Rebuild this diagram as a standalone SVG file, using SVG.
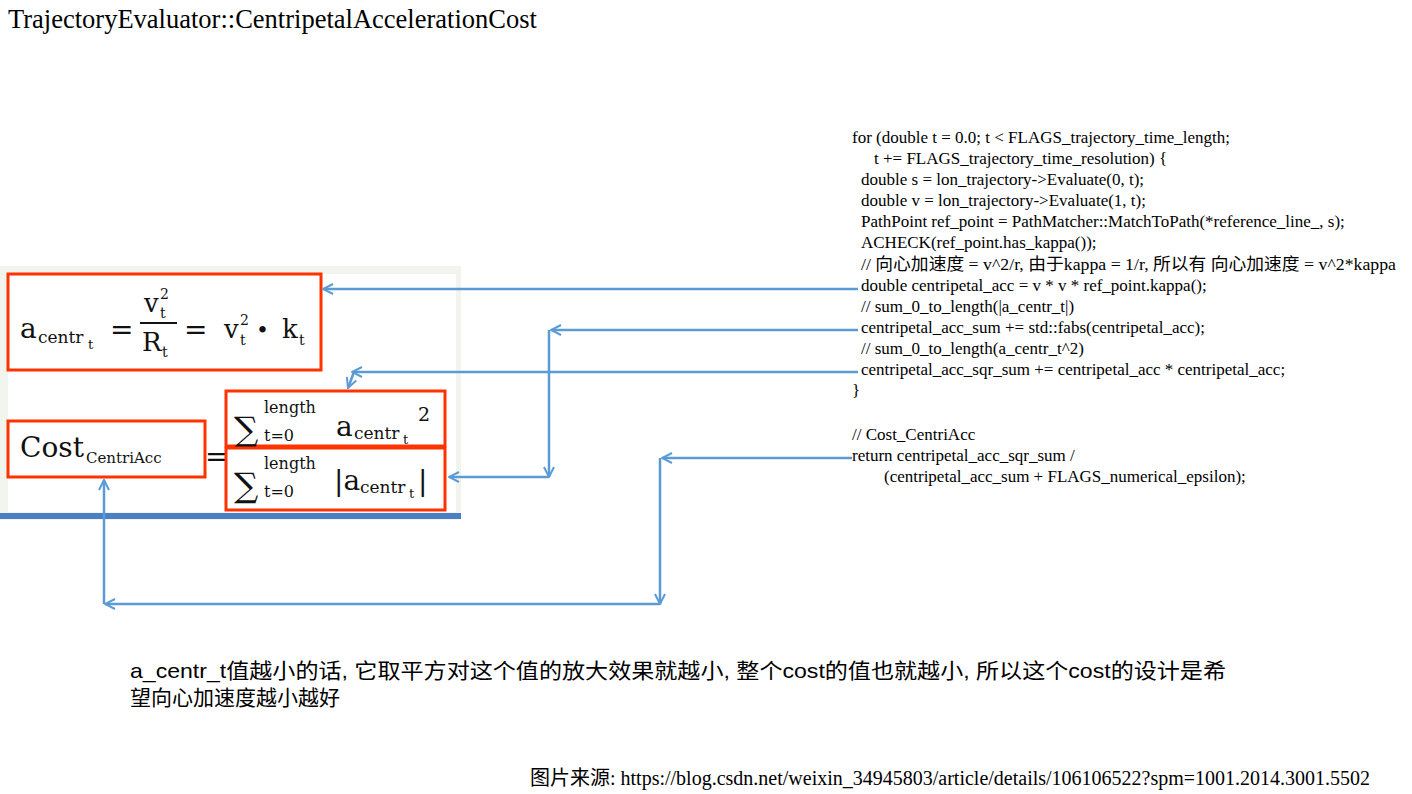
<svg xmlns="http://www.w3.org/2000/svg" width="1412" height="794" viewBox="0 0 1412 794">
<defs>
<marker id="ah" viewBox="0 0 12 12" refX="11" refY="6" markerWidth="12" markerHeight="12" markerUnits="userSpaceOnUse" orient="auto"><path d="M1,1 L11,6 L1,11" fill="none" stroke="#5b9bd5" stroke-width="2"/></marker>
<style>
.code{font-family:"Liberation Serif","Noto Sans CJK SC",serif;font-size:17px;fill:#000}
.m{font-family:"DejaVu Serif","Liberation Serif",serif;fill:#111}
.box{fill:none;stroke:#ff3300;stroke-width:3}
.c{fill:none;stroke:#5b9bd5;stroke-width:2.5}
.note{font-family:"Liberation Sans","Noto Sans CJK SC",sans-serif;font-size:21px;fill:#000}
</style>
</defs>
<rect width="1412" height="794" fill="#fff"/>
<text x="8" y="28" style="font-family:'Liberation Serif',serif;font-size:26.5px">TrajectoryEvaluator::CentripetalAccelerationCost</text>
<g id="formula-image">
<rect x="0" y="266" width="461" height="254" fill="#f2f4ee"/>
<rect x="8" y="274" width="448" height="238" fill="#fff"/>
<rect x="0" y="513" width="461" height="6" fill="#4a7fc4"/>
</g>
<g id="node-acentr">
<rect class="box" x="8" y="274" width="313" height="96"/>
<text class="m" x="20" y="338" font-size="28">a</text>
<text class="m" x="38" y="343" font-size="17">centr</text>
<text class="m" x="88" y="349" font-size="13">t</text>
<text class="m" x="110" y="339" font-size="28">=</text>
<text class="m" x="144" y="312" font-size="26">v</text>
<text class="m" x="160" y="299" font-size="14">2</text>
<text class="m" x="160" y="318" font-size="14">t</text>
<line x1="140" y1="323" x2="177" y2="323" stroke="#111" stroke-width="2"/>
<text class="m" x="142" y="351" font-size="26">R</text>
<text class="m" x="162" y="357" font-size="14">t</text>
<text class="m" x="184" y="339" font-size="28">=</text>
<text class="m" x="224" y="338" font-size="26">v</text>
<text class="m" x="240" y="325" font-size="14">2</text>
<text class="m" x="240" y="345" font-size="14">t</text>
<text class="m" x="256" y="338" font-size="22">•</text>
<text class="m" x="282" y="338" font-size="26">k</text>
<text class="m" x="299" y="345" font-size="14">t</text>
</g>
<g id="node-cost">
<rect class="box" x="8" y="421" width="197" height="56"/>
<text class="m" x="20" y="457" font-size="28">Cost</text>
<text class="m" x="86" y="463" font-size="15">CentriAcc</text>
<text class="m" x="205" y="466" font-size="28">=</text>
</g>
<g id="node-numerator">
<rect class="box" x="226" y="391" width="219" height="55"/>
<text class="m" x="234" y="441" font-size="34">∑</text>
<text class="m" x="264" y="413" font-size="16">length</text>
<text class="m" x="264" y="441" font-size="16">t=0</text>
<text class="m" x="336" y="436" font-size="28">a</text>
<text class="m" x="354" y="439" font-size="17">centr</text>
<text class="m" x="403" y="444" font-size="13">t</text>
<text class="m" x="418" y="421" font-size="19">2</text>
</g>
<g id="node-denominator">
<rect class="box" x="226" y="448" width="219" height="62"/>
<text class="m" x="234" y="497" font-size="34">∑</text>
<text class="m" x="264" y="469" font-size="16">length</text>
<text class="m" x="264" y="497" font-size="16">t=0</text>
<text class="m" x="334" y="490" font-size="28">|a</text>
<text class="m" x="360" y="493" font-size="17">centr</text>
<text class="m" x="409" y="498" font-size="13">t</text>
<text class="m" x="418" y="490" font-size="28">|</text>
</g>
<g id="code">
<text class="code" x="852" y="143">for (double t = 0.0; t &lt; FLAGS_trajectory_time_length;</text>
<text class="code" x="874" y="164">t += FLAGS_trajectory_time_resolution) {</text>
<text class="code" x="861" y="185">double s = lon_trajectory-&gt;Evaluate(0, t);</text>
<text class="code" x="861" y="206">double v = lon_trajectory-&gt;Evaluate(1, t);</text>
<text class="code" x="861" y="227">PathPoint ref_point = PathMatcher::MatchToPath(*reference_line_, s);</text>
<text class="code" x="861" y="248">ACHECK(ref_point.has_kappa());</text>
<text class="code" x="861" y="270" textLength="535" lengthAdjust="spacingAndGlyphs">// 向心加速度 = v^2/r, 由于kappa = 1/r, 所以有 向心加速度 = v^2*kappa</text>
<text class="code" x="861" y="291">double centripetal_acc = v * v * ref_point.kappa();</text>
<text class="code" x="861" y="312">// sum_0_to_length(|a_centr_t|)</text>
<text class="code" x="861" y="333">centripetal_acc_sum += std::fabs(centripetal_acc);</text>
<text class="code" x="861" y="354">// sum_0_to_length(a_centr_t^2)</text>
<text class="code" x="861" y="375">centripetal_acc_sqr_sum += centripetal_acc * centripetal_acc;</text>
<text class="code" x="852" y="396">}</text>
<text class="code" x="852" y="440">// Cost_CentriAcc</text>
<text class="code" x="852" y="461">return centripetal_acc_sqr_sum /</text>
<text class="code" x="884" y="482">(centripetal_acc_sum + FLAGS_numerical_epsilon);</text>
</g>
<g id="connectors">
<line class="c" x1="858" y1="289" x2="323" y2="289" marker-end="url(#ah)"/>
<line class="c" x1="858" y1="330" x2="551" y2="330" marker-end="url(#ah)"/>
<line class="c" x1="549" y1="330" x2="549" y2="477" marker-end="url(#ah)"/>
<line class="c" x1="549" y1="477" x2="449" y2="477" marker-end="url(#ah)"/>
<line class="c" x1="858" y1="372" x2="352" y2="372" marker-end="url(#ah)"/>
<line class="c" x1="354" y1="372" x2="348" y2="388" marker-end="url(#ah)"/>
<line class="c" x1="852" y1="458" x2="662" y2="458" marker-end="url(#ah)"/>
<line class="c" x1="660" y1="458" x2="660" y2="604" marker-end="url(#ah)"/>
<line class="c" x1="660" y1="604" x2="105" y2="604" marker-end="url(#ah)"/>
<line class="c" x1="104" y1="604" x2="104" y2="480" marker-end="url(#ah)"/>
</g>
<text class="note" x="130" y="678" textLength="1096" lengthAdjust="spacingAndGlyphs">a_centr_t值越小的话, 它取平方对这个值的放大效果就越小, 整个cost的值也就越小, 所以这个cost的设计是希</text>
<text class="note" x="130" y="705">望向心加速度越小越好</text>
<text x="530" y="785" style="font-family:'Liberation Serif','Noto Sans CJK SC',serif;font-size:20px">图片来源: https://blog.csdn.net/weixin_34945803/article/details/106106522?spm=1001.2014.3001.5502</text>
</svg>
